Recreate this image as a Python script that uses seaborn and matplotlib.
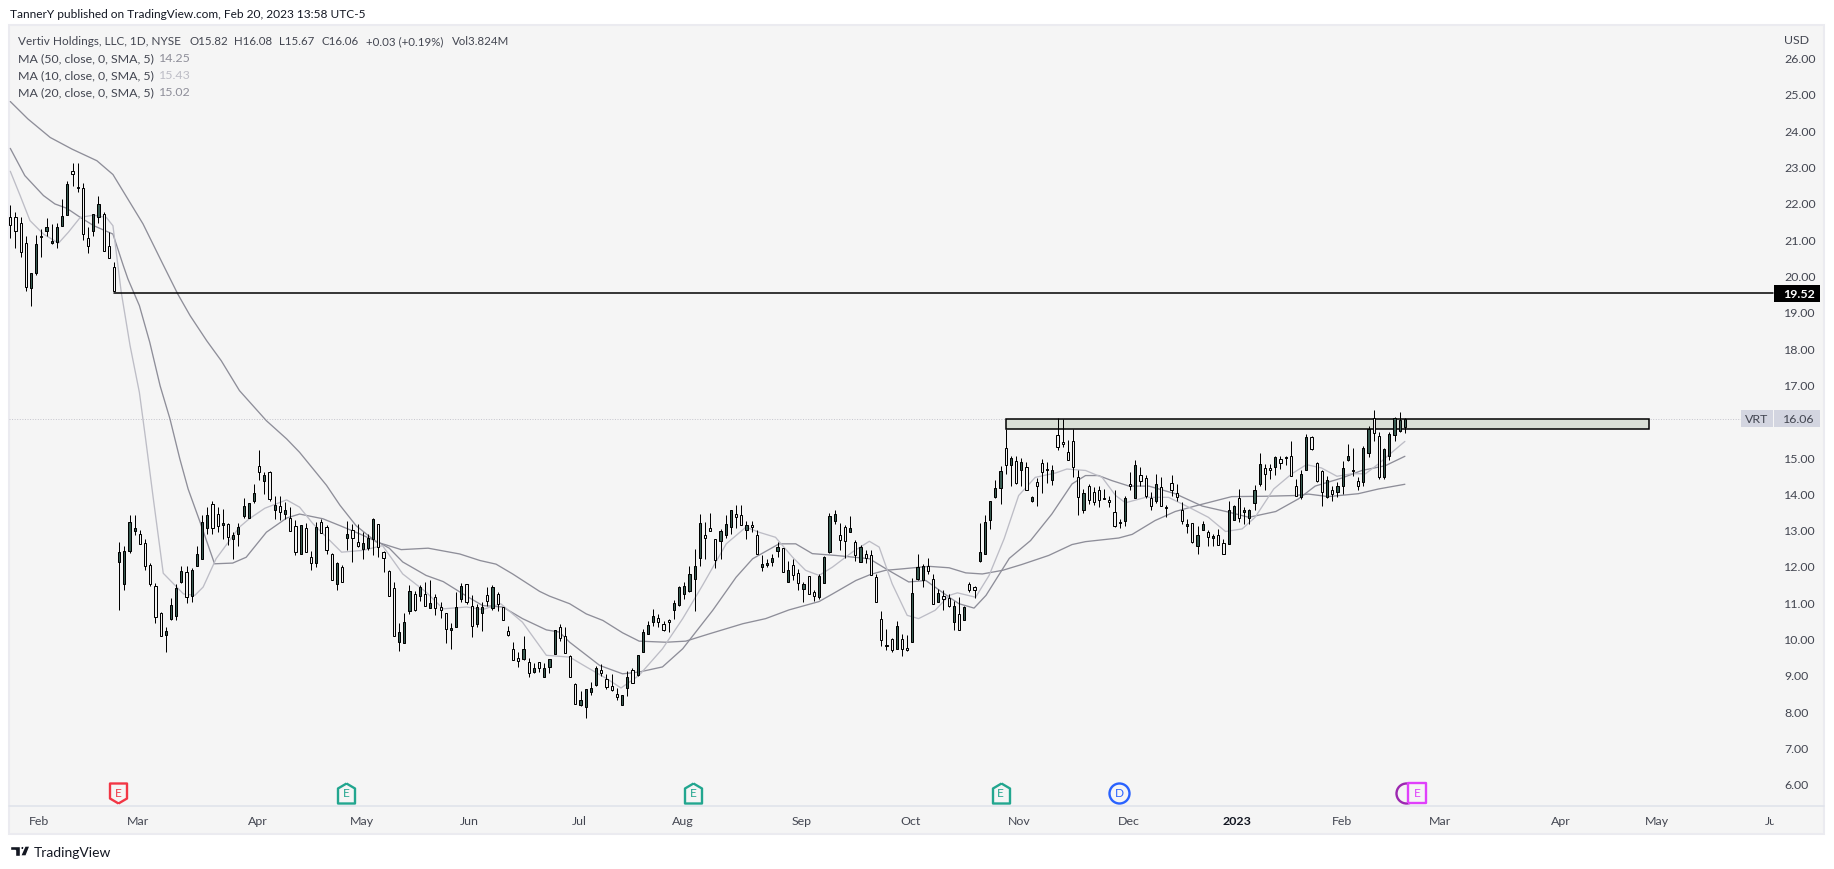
# Script para redibujar el grafico de velas de VRT
import numpy as np
import pandas as pd
import matplotlib
matplotlib.use("Agg")
import matplotlib.pyplot as plt
import seaborn as sns
from matplotlib.patches import Rectangle, Polygon, Circle
from matplotlib.path import Path
from matplotlib.transforms import Bbox, blended_transform_factory

# Velas diarias
opens = [21.6,21.6,21.44,20.9,19.65,20.06,21.05,21.23,20.9,20.93,
    21.37,21.67,22.87,22.4,22.4,21.02,21.23,21.6,21.69,20.8,20.22,
    12.12,11.49,12.4,12.95,12.88,12.63,12.03,11.45,10.71,10.09,
    10.53,10.62,11.55,11.83,11.17,12.01,12.2,13.04,13.7,13.43,
    13.13,13.16,12.73,12.88,13.38,13.33,13.79,14.75,14.33,14.58,
    13.54,13.65,13.43,13.33,13.1,12.32,13.04,12.24,12.08,13.21,
    13.07,12.33,11.51,11.97,12.76,12.98,12.66,12.48,12.49,12.73,
    13.15,12.38,11.86,11.39,9.9,9.88,10.76,11.22,11.17,11.22,
    10.84,11.14,10.87,10.7,10.25,10.33,11.09,11.5,10.91,10.4,
    10.7,11.19,10.85,11.22,10.87,10.21,9.71,9.46,9.45,9.35,
    9.07,9.35,8.94,9.22,9.57,10.32,10.07,9.52,8.76,8.16,
    8.13,8.53,8.73,
    9.13,8.9,8.69,8.47,8.16,8.63,9.13,9.01,9.63,10.12,
    10.45,10.57,10.39,10.52,10.78,10.93,11.24,11.3,11.64,12.22,
    12.86,13.04,12.74,12.69,12.84,13.07,13.44,13.41,12.99,13.12,
    12.86,11.96,12.04,12.12,12.4,12.49,11.55,12.04,11.82,11.36,
    11.72,11.28,11.14,11.53,12.38,13.25,12.84,13.08,12.93,12.66,
    12.11,12.33,12.3,11.69,10.54,9.79,9.98,9.7,10.0,9.75,
    9.92,11.65,11.62,11.99,11.65,11.02,11.17,11.12,10.45,10.67,
    10.5,11.49,11.42,12.15,12.32,13.26,13.89,
    14.14,15.24,14.77,14.88,14.65,14.72,13.8,14.31,14.83,14.64,
    14.36,15.6,15.41,15.13,15.43,14.44,13.53,14.2,14.03,14.08,
    13.84,13.83,13.5,13.17,13.25,14.25,13.88,14.5,14.42,13.87,
    13.8,14.17,13.59,14.28,14.0,13.55,13.1,13.18,12.55,13.0,
    12.93,12.76,12.86,12.63,12.6,13.26,13.87,13.5,13.33,13.74,
    14.27,14.71,14.71,14.72,14.95,14.96,15.02,14.21,13.89,14.65,
    15.54,14.83,14.61,13.89,14.08,14.03,14.2,14.93,14.62,14.33,
    14.31,15.1,16.07,15.57,14.46,15.04,15.62,15.73,15.82]
highs = [21.94,21.74,21.6,21.1,20.06,21.11,21.28,21.57,21.42,21.45,
    22.1,22.59,23.11,23.1,22.55,21.34,21.69,22.2,21.75,21.2,20.36,
    12.66,12.56,13.41,13.41,12.99,12.75,12.09,11.54,10.73,10.32,
    11.12,11.51,12.0,12.0,11.94,12.55,13.41,13.62,13.79,13.62,
    13.57,13.19,12.93,13.19,13.87,13.73,14.25,15.2,14.58,14.61,
    13.92,13.92,13.76,13.62,13.27,13.13,13.19,12.41,13.22,13.28,
    13.13,12.36,12.12,12.03,13.23,13.16,13.16,12.93,12.89,13.33,
    13.15,12.42,11.9,11.55,10.43,10.71,11.48,11.3,11.48,11.57,
    11.62,11.22,11.0,10.7,10.43,11.28,11.53,11.5,11.19,10.94,
    11.0,11.42,11.48,11.28,10.87,10.34,9.9,9.63,10.07,9.46,
    9.33,9.35,9.33,9.44,10.25,10.4,10.32,9.55,8.78,8.55,
    8.61,8.8,9.24,
    9.31,9.02,9.03,8.64,8.45,9.1,9.19,9.54,10.27,10.48,
    10.82,10.68,10.48,10.55,11.05,11.44,11.57,11.99,12.47,13.44,
    13.21,13.46,12.74,13.02,13.39,13.54,13.68,13.67,13.25,13.25,
    12.98,12.29,12.2,12.34,12.66,12.49,12.15,12.2,11.92,11.57,
    11.72,11.33,11.79,12.27,13.46,13.55,13.18,13.12,13.37,12.72,
    12.58,12.45,12.45,11.79,10.76,10.27,10.01,10.48,10.13,10.11,
    11.68,12.34,12.06,12.22,11.77,11.37,11.33,11.23,11.03,11.14,
    10.91,11.57,11.46,13.19,13.39,13.79,14.37,
    14.75,15.77,15.04,15.04,14.97,14.86,13.94,14.42,14.95,14.86,
    14.78,16.07,16.05,15.46,15.76,14.63,14.12,14.26,14.17,14.2,
    14.12,13.94,14.08,13.28,13.92,14.58,14.92,14.72,14.51,14.03,
    14.54,14.44,13.68,14.51,14.26,13.76,13.28,13.18,13.11,13.25,
    13.0,12.88,13.02,12.75,13.78,13.68,14.12,13.62,13.57,14.23,
    15.1,14.81,14.81,15.02,15.02,15.02,15.43,14.4,14.63,15.64,
    15.59,14.86,14.65,14.47,14.2,14.31,14.9,15.35,15.24,14.44,
    15.3,15.85,16.3,15.68,15.24,15.7,16.1,16.23,16.08]
lows = [21.02,20.75,20.5,19.58,19.15,20.0,20.5,21.1,20.88,20.75,
    21.35,21.67,22.47,22.3,20.99,20.62,21.1,21.44,20.68,20.47,19.56,
    10.78,11.33,12.35,12.84,12.6,11.9,11.45,10.43,10.07,9.63,
    10.5,10.5,11.54,10.99,11.0,12.01,12.18,12.89,12.89,12.93,
    12.75,12.58,12.18,12.54,13.32,13.33,13.73,14.38,13.97,13.78,
    13.3,13.27,13.3,12.95,12.29,12.32,12.38,11.88,11.97,12.9,
    12.32,11.6,11.33,11.55,12.43,12.12,12.52,12.2,12.45,12.29,
    12.24,11.83,11.17,10.07,9.66,9.88,10.67,10.75,11.03,10.89,
    10.84,10.64,10.57,9.88,9.7,10.32,11.02,10.96,10.04,10.32,
    10.22,10.89,10.8,10.76,10.51,10.07,9.41,9.21,9.41,8.94,
    9.05,9.08,8.94,9.05,9.57,9.93,9.6,8.94,8.19,8.14,
    7.81,8.46,8.69,
    8.97,8.62,8.57,8.3,8.16,8.41,8.79,8.96,9.63,10.12,
    10.36,10.32,10.21,10.18,10.55,10.91,11.1,11.28,10.76,12.01,
    12.2,12.95,11.94,12.2,12.77,12.89,13.04,13.12,12.75,12.93,
    12.32,11.85,11.97,12.0,12.24,11.83,11.55,11.6,11.33,11.02,
    11.22,11.03,11.1,11.53,12.36,13.16,12.43,12.23,12.93,12.15,
    12.11,12.09,11.74,11.01,9.79,9.68,9.63,9.7,9.51,9.65,
    9.92,11.6,11.42,11.79,10.94,11.02,10.8,10.87,10.23,10.23,
    10.5,11.28,11.12,12.11,12.32,13.01,13.87,
    13.71,14.52,14.2,14.25,14.21,14.08,13.76,13.66,14.01,14.29,
    14.23,15.18,15.29,14.93,14.46,13.41,13.46,13.71,13.68,13.62,
    13.84,13.62,13.07,13.04,13.11,14.08,13.87,14.2,13.87,13.53,
    13.74,13.65,13.35,13.94,13.8,13.16,12.91,12.64,12.33,12.98,
    12.55,12.56,12.59,12.32,12.6,13.26,13.22,13.16,13.16,13.54,
    14.21,14.08,14.4,14.51,14.67,14.78,14.49,13.94,13.85,14.63,
    15.18,14.31,13.66,13.88,13.8,13.89,13.99,14.9,14.49,14.1,
    14.21,15.01,15.45,14.4,14.4,14.92,15.45,15.68,15.67]
closes = [21.4,21.22,20.64,19.67,20.06,20.87,21.1,21.33,20.95,21.33,
    21.63,22.52,22.8,22.44,21.13,20.82,21.69,21.96,20.68,20.47,19.56,
    12.38,12.41,13.21,13.04,12.6,11.99,11.51,10.59,10.07,10.2,
    10.93,11.39,11.86,11.14,11.89,12.32,13.22,13.39,13.04,13.1,
    13.17,12.79,12.84,13.06,13.65,13.73,14.0,14.58,14.51,13.85,
    13.68,13.48,13.54,12.95,12.38,13.13,12.38,12.07,13.07,12.9,
    12.43,11.62,12.09,11.55,12.87,12.77,12.54,12.63,12.77,13.29,
    12.51,12.22,11.17,10.07,10.18,10.45,11.3,10.78,11.42,10.91,
    10.98,10.85,10.8,10.26,10.27,10.87,11.45,11.0,10.34,10.87,
    10.87,11.03,11.42,10.95,10.51,10.09,9.41,9.38,9.71,9.05,
    9.2,9.19,9.19,9.44,10.23,10.01,9.6,8.94,8.21,8.3,
    8.61,8.63,9.19,
    9.04,8.68,8.59,8.38,8.45,8.94,8.79,9.54,10.18,10.38,
    10.62,10.47,10.25,10.45,10.98,11.42,11.46,11.78,12.0,13.18,
    12.78,12.97,12.16,12.96,13.15,13.54,13.35,13.14,13.12,13.06,
    12.32,12.05,12.05,12.22,12.51,11.83,11.88,11.76,11.53,11.5,
    11.22,11.16,11.72,12.25,13.38,13.44,12.72,12.68,13.04,12.31,
    12.52,12.22,11.74,11.02,9.96,9.82,9.68,10.35,9.7,9.68,
    11.25,11.97,12.01,11.86,10.94,11.25,11.09,10.91,10.9,10.23,
    10.87,11.35,11.33,12.38,13.21,13.79,14.15,
    14.61,14.79,14.97,14.29,14.86,14.08,13.91,14.19,14.6,14.66,
    14.64,15.29,15.35,14.93,14.72,13.89,14.0,13.82,13.77,13.82,
    13.87,13.75,13.09,13.2,13.88,14.19,14.77,14.35,13.94,13.66,
    14.25,13.65,13.63,14.08,13.9,13.25,13.15,12.65,12.85,13.15,
    12.79,12.82,12.59,12.33,13.53,13.66,13.32,13.51,13.53,14.1,
    14.82,14.53,14.64,14.99,14.83,14.97,14.49,13.94,14.52,15.54,
    15.22,14.35,14.05,14.38,13.97,14.21,14.71,15.04,14.63,14.19,
    15.24,15.76,15.66,14.46,15.22,15.63,16.07,16.03,16.06]

# Medias moviles: posicion en barras y valor
ma50_x = [0,3.4,7.7,11.9,16.7,19.8,22.7,25.6,29.4,32.3,34.7,37.9,40.7,44.2,49.4,53.3,55.8,61,63.6,66.7,
    70.6,72.5,75.4,80.6,86.7,90.6,93.7,96.9,102.1,104,107.9,111.1,114.3,118.1,121.3,126.5,130.3,134.8,141.3,145.7,
    150.2,156,158.6,163.1,166,168.8,172,177.2,181.1,184.3,187.5,191.4,195.1,200.3,204.8,207.4,213.8,216.4,220.8,224.7,
    228.5,235.6,242.1,247.8,250.4,254.2,260,263.9,269]
ma50_y = [24.79,24.31,23.8,23.48,23.16,22.78,22.1,21.42,20.32,19.49,18.89,18.2,17.65,16.83,16,15.5,15.13,14.22,13.67,13.11,
    12.66,12.58,12.45,12.49,12.33,12.15,12.05,11.78,11.3,11.17,10.96,10.68,10.5,10.16,9.93,9.9,9.93,10.13,10.41,10.55,
    10.79,11.02,11.23,11.6,11.77,11.88,11.92,11.99,11.95,11.81,11.78,11.88,12.04,12.29,12.59,12.67,12.77,12.87,13.25,13.5,
    13.65,13.91,13.92,13.94,13.98,13.91,13.99,14.12,14.25]
ma20_x = [0,2.8,6.4,8.6,10.9,13.5,16.1,19.8,21.8,22.7,24.9,26.9,28.9,30.8,32.7,34.3,36.5,39.4,42.9,45.5,
    49.4,53.3,55.8,60.3,63.6,67.3,71.2,73.1,75.7,80.2,83.5,88,91.1,95,98.8,103.4,105.9,107.9,113.7,118.1,
    121.3,125.8,129.7,135.5,140,143.2,148.3,151.5,154.7,159.2,165.7,169.4,173.3,176.6,181.1,183,185.9,188.2,192.7,196.8,
    200.9,204.8,207.4,209.9,212.5,215.8,219.6,224.7,229.9,235.1,238.9,244.1,248.5,251.7,256.8,260.7,265.2,269]
ma20_y = [23.5,22.75,22.2,21.97,21.85,21.6,21.37,21.14,20.27,19.9,19.17,18.16,16.96,16.05,14.95,14.12,13.25,12.06,12.08,12.24,
    12.93,13.32,13.43,13.3,13.11,12.89,12.64,12.49,12.11,11.74,11.57,11.17,10.91,10.87,10.55,10.24,10.18,9.9,9.26,9.03,
    9.08,9.22,9.72,10.78,11.69,12.2,12.61,12.61,12.34,12.29,12.2,11.88,11.56,11.6,11.14,10.96,10.84,11.19,12.21,12.7,
    13.43,14.26,14.49,14.49,14.35,14.2,14.2,13.99,13.65,13.48,13.34,13.5,13.85,14.2,14.42,14.63,14.76,15.02]
ma10_x = [0,1.9,3.8,6.4,9.3,11.2,13.5,16,18.5,19.8,21.4,23.1,24.9,26.1,27.6,29.5,33.4,35.6,37.2,39.7,
    44.2,46.1,49.1,53.3,55.8,58.4,63.9,68,71.8,75.7,80.2,83.5,88,91.1,94.6,98.8,103.4,107.9,111.1,115,
    117.8,121.3,125.8,129.7,133.5,138.1,141.9,144.4,147.6,150.9,153.4,156,158.6,162.4,165.7,167.6,170.1,173,175.2,178.4,
    181.1,182.7,186.2,188.8,191.7,194.5,197.7,201.6,203.8,207.4,210.6,213.2,215.1,219,223.4,227.3,231.1,234.4,237.6,240.1,
    243.7,247.2,250,252.9,255.9,258.8,261.4,263.9,266.5,269]
ma10_y = [22.87,22.2,21.51,21.14,20.89,21.19,21.6,21.66,21.6,21.37,19.54,18.07,16.78,15.5,13.84,11.8,11.23,11.19,11.42,12.2,
    13.07,13.3,13.59,13.82,13.62,13.16,12.38,12.43,12.56,11.78,11.28,10.82,10.87,10.8,10.96,10.45,9.54,9.49,9.22,8.9,
    8.64,8.99,9.72,10.55,11.46,12.61,13.07,12.93,12.79,12.24,11.88,11.74,11.97,12.38,12.68,12.52,11.51,10.64,10.55,10.78,
    11.19,11.26,11.14,11.74,12.75,13.94,14.44,14.56,14.67,14.63,14.44,13.94,13.74,13.89,13.89,13.62,13.34,12.95,13.02,13.34,
    14.12,14.54,14.79,14.7,14.47,14.54,14.54,14.81,15.13,15.43]

# Ejes
price_ticks = [6,7,8,9,10,11,12,13,14,15,17,18,19,20,21,22,23,24,25,26]
month_labels = ["Feb","Mar","Apr","May","Jun","Jul","Aug","Sep","Oct","Nov","Dec","2023","Feb","Mar","Apr","May","Jun"]
month_bars = [5.5,24.6,47.7,67.8,88.6,109.8,129.8,152.7,173.7,194.7,215.7,236.7,256.8,275.7,299,317.7,340.2]

# Niveles y eventos
level_price = 19.52
level_start = 20
last_price = 16.06
zone_bars = [192, 316.1]
zone_prices = [15.77, 16.05]
earn_up_bars = [64.8, 131.7, 191]
earn_down_bars = [20.8]
div_bar = 213.9
split_bar = 269.3
earn_next_bar = 271.4

W, H = 1834, 870
UP = "#375a50"
DOWN = "#f2f2f2"
PANEL = "#f5f5f5"
TEXT = "#434651"
FONT = ["Lato", "DejaVu Sans"]
FS = 8.9

def px_text(fig, x, y, s, **kw):
    """Texto colocado en pixeles de la figura"""
    kw.setdefault("color", TEXT)
    kw.setdefault("fontsize", FS)
    kw.setdefault("va", "center")
    return fig.text(x / W, 1 - y / H, s, **kw)

def draw_frame(fig):
    """Fondo del panel, separador del eje y logo"""
    bg = fig.add_axes([0, 0, 1, 1], zorder=-1)
    bg.set_xlim(0, W)
    bg.set_ylim(H, 0)
    bg.axis("off")
    bg.add_patch(Rectangle((9, 26), 1815, 809, fc=PANEL, ec="#ebebf0", lw=1.5))
    bg.plot([9, 1824], [806.7, 806.7], color="#e0e3eb", lw=1.2)
    # logo
    bg.add_patch(Polygon([(10, 847), (20, 847), (20, 857), (15, 857), (15, 851), (10, 851)], fc="#131722"))
    bg.add_patch(Circle((22.5, 849), 1.8, fc="#131722"))
    bg.add_patch(Polygon([(25, 847), (30, 847), (26, 857), (20.5, 857)], fc="#131722"))
    return bg

def draw_candles(ax, df):
    """Mechas y cuerpos de las velas"""
    ax.vlines(df["bar"], df["low"], df["high"], color="black", lw=0.72, zorder=3)
    bottom = df[["open", "close"]].min(axis=1)
    height = (df["close"] - df["open"]).abs().clip(lower=0.03)
    colors = np.where(df["close"] >= df["open"], UP, DOWN)
    ax.bar(df["bar"], height, bottom=bottom, width=0.42, color=colors,
           edgecolor="black", linewidth=0.72, zorder=4)

def draw_events(ax):
    """Marcas de resultados y dividendos sobre el eje temporal"""
    tr = blended_transform_factory(ax.transData, ax.transAxes)
    y0 = 0.0167
    house = Path([(0, 10), (8.5, 5), (8.5, -10), (-8.5, -10), (-8.5, 5), (0, 10)])
    shield = Path([(0, -10), (8.5, -5), (8.5, 10), (-8.5, 10), (-8.5, -5), (0, -10)])
    box = Path([(-8.5, -9.5), (8.5, -9.5), (8.5, 9.5), (-8.5, 9.5), (-8.5, -9.5)])
    style = dict(transform=tr, ms=14.4, mew=1.7, mfc=PANEL, ls="none", zorder=6, clip_on=False)
    ax.plot(earn_up_bars, [y0] * 3, marker=house, mec="#22a68f", **style)
    ax.plot(earn_down_bars, [y0], marker=shield, mec="#f23645", **style)
    ax.plot([div_bar], [y0], marker="o", mec="#2962ff", **style)
    ax.plot([split_bar], [y0], marker="o", mec="#9c27b0", **style)
    ax.plot([earn_next_bar], [y0], marker=box, mec="#e040fb", **style)
    marks = [(b, "E", "#22a68f") for b in earn_up_bars] + [(earn_down_bars[0], "E", "#f23645"),
             (div_bar, "D", "#2962ff"), (earn_next_bar, "E", "#e040fb")]
    for b, s, c in marks:
        ax.text(b, y0, s, transform=tr, color=c, fontsize=8.6, ha="center", va="center", zorder=7)

def main():
    sns.set_theme(style="white")
    plt.rcParams["font.family"] = FONT

    df = pd.DataFrame({"open": opens, "high": highs, "low": lows, "close": closes})
    df["bar"] = np.arange(len(df))

    fig = plt.figure(figsize=(W / 100, H / 100), dpi=100, facecolor="white")
    draw_frame(fig)
    ax = fig.add_axes([9 / W, 1 - 807 / H, (1774 - 9) / W, (807 - 27) / H], zorder=1)
    ax.patch.set_alpha(0)
    sns.despine(ax=ax, left=True, bottom=True, top=True, right=True)

    # Zona y niveles
    ax.add_patch(Rectangle((zone_bars[0], zone_prices[0]), zone_bars[1] - zone_bars[0],
                           zone_prices[1] - zone_prices[0], fc="#d9dfd6", ec="black", lw=1.1, zorder=1.5))
    ax.axhline(last_price, color="#c4c4cc", ls=":", lw=0.7, zorder=1)
    ax.plot([level_start, 340], [level_price, level_price], color="black", lw=1.1, zorder=5)

    # Medias moviles
    for xs, ys, color in [(ma50_x, ma50_y, "#8e8e99"), (ma20_x, ma20_y, "#8e8e99"), (ma10_x, ma10_y, "#bdbdc6")]:
        sns.lineplot(x=xs, y=ys, ax=ax, color=color, lw=0.95, estimator=None, sort=False,
                     legend=False, zorder=2)

    draw_candles(ax, df)
    draw_events(ax)

    ax.set_xlim(-0.25, 339.8)
    ax.set_ylim(5.39, 26.87)
    ax.set_xlabel("")
    ax.set_ylabel("")
    ax.yaxis.tick_right()
    ax.set_yticks(price_ticks, [f"{p:.2f}" for p in price_ticks])
    ax.set_xticks(month_bars, month_labels)
    ax.tick_params(axis="y", length=0, pad=7.2, labelsize=FS, labelcolor=TEXT)
    ax.tick_params(axis="x", length=0, pad=6.8, labelsize=FS, labelcolor=TEXT)
    clip = Bbox([[9, 0], [1774, 70]])
    for lab in ax.get_xticklabels():
        lab.set_clip_box(clip)
        lab.set_clip_on(True)
        if lab.get_text() == "2023":
            lab.set_color("#131722")
            lab.set_fontweight("bold")

    # Encabezado y leyenda
    px_text(fig, 10, 14.7, "TannerY published on TradingView.com, Feb 20, 2023 13:58 UTC-5",
            color="#131722", fontsize=8.55)
    px_text(fig, 18, 41.7, "Vertiv Holdings, LLC, 1D, NYSE", fontsize=8.5)
    top = [(189, "O15.82"), (234, "H16.08"), (279, "L15.67"),
           (322, "C16.06"), (366, "+0.03 (+0.19%)"), (452, "Vol3.824M")]
    for x, s in top:
        px_text(fig, x, 41.7, s, fontsize=8.3)
    legend = [(58.7, "MA (50, close, 0, SMA, 5)", "14.25", "#8e8e99"),
              (75.7, "MA (10, close, 0, SMA, 5)", "15.43", "#bdbdc6"),
              (92.7, "MA (20, close, 0, SMA, 5)", "15.02", "#8e8e99")]
    for y, s, v, c in legend:
        px_text(fig, 18, y, s)
        px_text(fig, 159, y, v, color=c)
    px_text(fig, 33.5, 853, "TradingView", color="#131722", fontsize=10)

    # Escala de precios
    px_text(fig, 1784, 40.5, "USD")
    for x0, x1, fc in [(1741, 1773, "#d3d5e0"), (1774, 1820, "#d3d5e0")]:
        fig.patches.append(Rectangle((x0 / W, 1 - 427.7 / H), (x1 - x0) / W, 16.7 / H, fc=fc, ec="none",
                                     transform=fig.transFigure, zorder=2))
    fig.patches.append(Rectangle((1774 / W, 1 - 302.7 / H), 46 / W, 16.7 / H, fc="black", ec="none",
                                 transform=fig.transFigure, zorder=2))
    px_text(fig, 1756.5, 419.5, "VRT", ha="center", zorder=3)
    px_text(fig, 1799, 419.5, "16.06", ha="center", zorder=3)
    px_text(fig, 1799, 294.5, "19.52", ha="center", color="white", fontweight="bold", zorder=3)

    fig.savefig("out.png", dpi=100, facecolor="white")
    plt.close(fig)

if __name__ == "__main__":
    main()
